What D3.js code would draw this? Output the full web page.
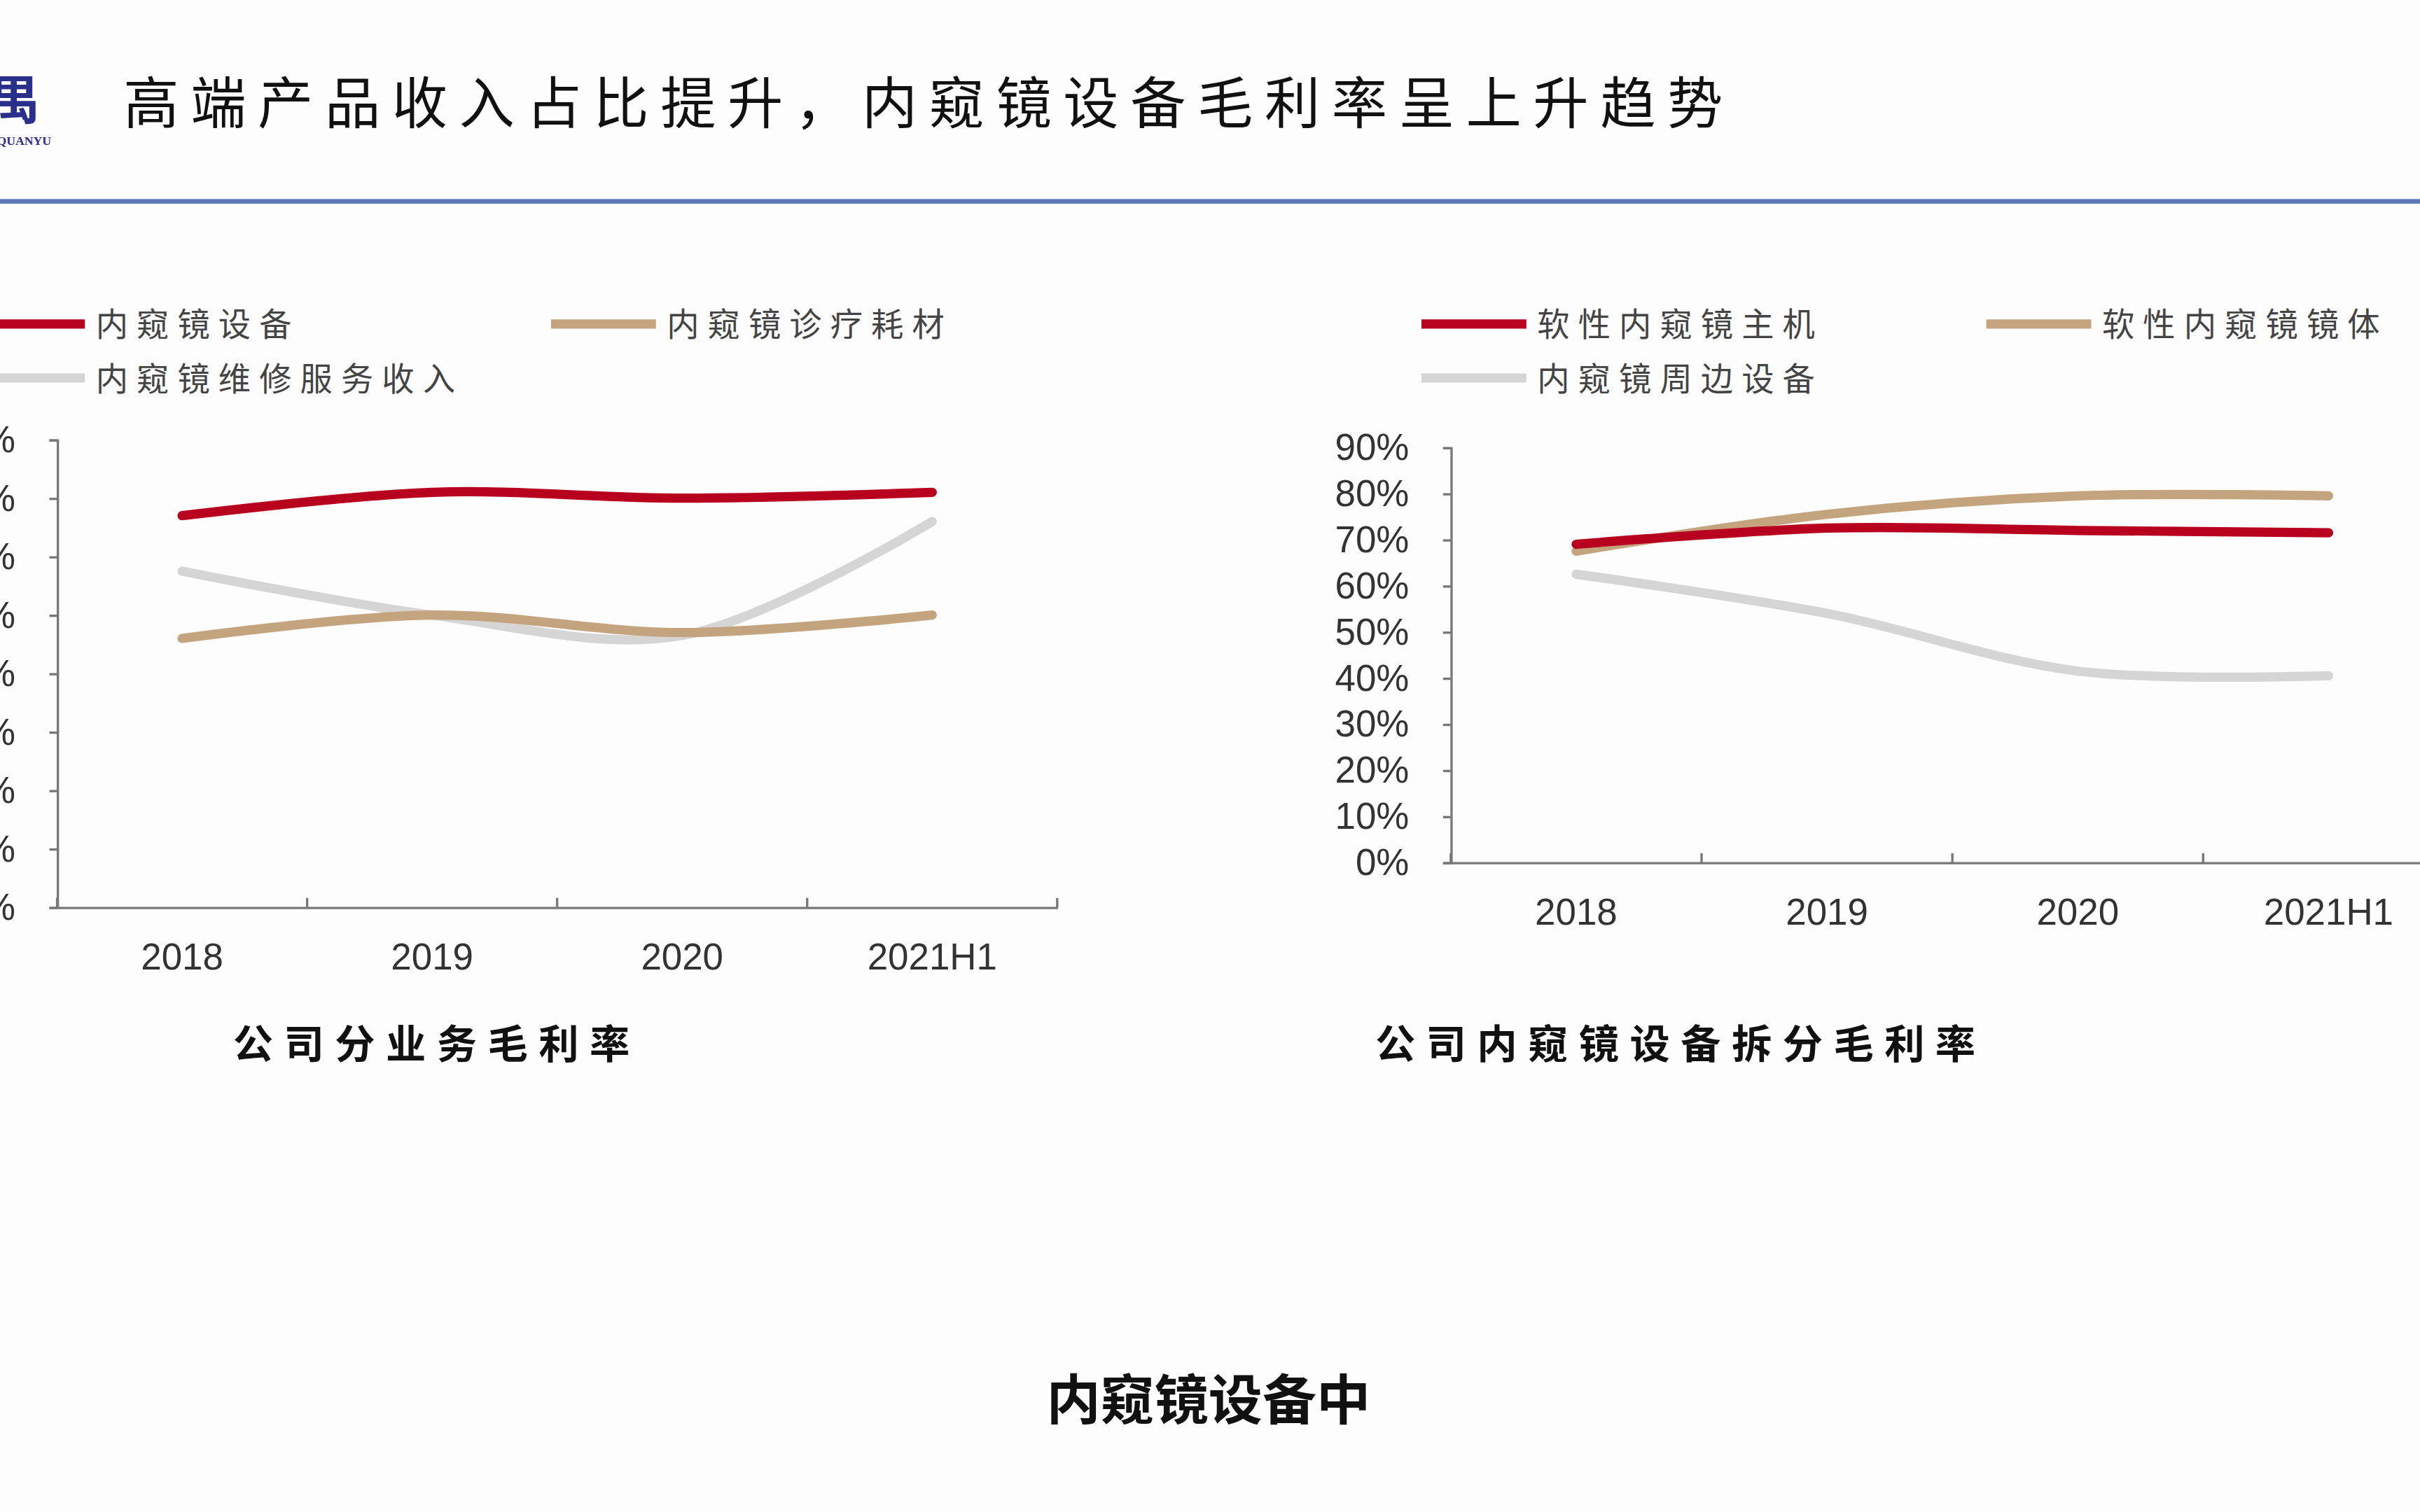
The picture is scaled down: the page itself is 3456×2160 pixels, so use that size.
<!DOCTYPE html>
<html><head><meta charset="utf-8">
<script src="https://cdn.jsdelivr.net/npm/d3@7"></script>
<style>
html,body{margin:0;padding:0;background:#fdfdfd;overflow:hidden}
svg{display:block}
.cjk{font-family:"Noto Sans CJK SC",sans-serif}
</style></head>
<body>
<script>
const years = ['2018', '2019', '2020', '2021H1'];

// 公司分业务毛利率
const leftNames = ['内窥镜设备', '内窥镜诊疗耗材', '内窥镜维修服务收入'];
const leftEquip = [0.67, 0.71, 0.70, 0.71];
const leftConsum = [0.46, 0.50, 0.47, 0.50];
const leftRepair = [0.575, 0.50, 0.465, 0.66];
const leftTicks = [0, 0.1, 0.2, 0.3, 0.4, 0.5, 0.6, 0.7, 0.8];

// 公司内窥镜设备拆分毛利率
const rightNames = ['软性内窥镜主机', '软性内窥镜镜体', '内窥镜周边设备'];
const rightHost = [0.69, 0.725, 0.72, 0.715];
const rightScope = [0.675, 0.755, 0.795, 0.795];
const rightPeri = [0.625, 0.54, 0.415, 0.405];
const rightTicks = [0, 0.1, 0.2, 0.3, 0.4, 0.5, 0.6, 0.7, 0.8, 0.9];

const colors = ['#b8001f', '#c4a47e', '#d5d5d5'];

const svg = d3.select('body').append('svg')
  .attr('width', 3456).attr('height', 2160)
  .attr('viewBox', '0 0 1568 980');

// header
svg.append('text').attr('x', -8).attr('y', 77).attr('fill', '#2b2f8c')
  .attr('font-size', 34).attr('font-weight', 'bold').attr('class', 'cjk').text('禺');
svg.append('text').attr('x', -2).attr('y', 94).attr('fill', '#2b2f8c')
  .attr('font-size', 8).attr('font-family', 'Liberation Serif').attr('font-weight', 'bold').text('QUANYU');
svg.append('text').attr('x', 80).attr('y', 80).attr('class', 'cjk')
  .attr('font-size', 36).attr('fill', '#111').attr('letter-spacing', 7.5)
  .text('高端产品收入占比提升，内窥镜设备毛利率呈上升趋势');
svg.append('rect').attr('x', 0).attr('y', 129).attr('width', 1568).attr('height', 3).attr('fill', '#5a78b8');

function chart(cfg) {
  const x = d3.scaleBand().domain(years).range([cfg.x0, cfg.x1]);
  const y = d3.scaleLinear().domain([0, cfg.max]).range([cfg.y0, cfg.y1]);
  const g = svg.append('g');

  const ya = g.append('g').attr('transform', `translate(${cfg.x0},0)`)
    .call(d3.axisLeft(y).tickValues(cfg.ticks).tickFormat(d3.format('.0%')).tickSize(5).tickPadding(22));
  const xa = g.append('g').attr('transform', `translate(0,${cfg.y0})`)
    .call(d3.axisBottom(x).tickSize(0).tickPadding(20));
  // tick marks at band boundaries
  g.selectAll('.bt').data(d3.range(years.length + 1)).join('line')
    .attr('x1', (i) => cfg.x0 + i * x.step()).attr('x2', (i) => cfg.x0 + i * x.step())
    .attr('y1', cfg.y0).attr('y2', cfg.y0 - 6).attr('stroke', '#777').attr('stroke-width', 1.5);
  [ya, xa].forEach((a) => {
    a.select('.domain').attr('stroke', '#777').attr('stroke-width', 1.5);
    a.selectAll('.tick line').attr('stroke', '#777').attr('stroke-width', 1.5);
    a.selectAll('text').attr('font-family', 'Liberation Sans, Arial').attr('font-size', 24).attr('fill', '#333');
  });
  xa.selectAll('.tick text').attr('dy', '0.85em');

  const line = d3.line().x((d, i) => x(years[i]) + x.bandwidth() / 2).y((d) => y(d))
    .curve(d3.curveCatmullRom.alpha(0.5));
  cfg.series.slice().reverse().forEach((s, k) => {
    const i = cfg.series.length - 1 - k;
    g.append('path').attr('d', line(s)).attr('fill', 'none')
      .attr('stroke', colors[i]).attr('stroke-width', 6).attr('stroke-linecap', 'round');
  });

  // legend
  cfg.legend.forEach((p, i) => {
    g.append('line').attr('x1', p[0]).attr('x2', p[0] + 68).attr('y1', p[1]).attr('y2', p[1])
      .attr('stroke', colors[i]).attr('stroke-width', 6);
    g.append('text').attr('x', p[0] + 75).attr('y', p[1] + 8).attr('class', 'cjk')
      .attr('font-size', 21).attr('fill', '#444').attr('letter-spacing', 5.5).text(cfg.names[i]);
  });
  g.append('text').attr('x', cfg.capX).attr('y', 686).attr('text-anchor', 'middle').attr('class', 'cjk')
    .attr('font-size', 26).attr('font-weight', 'bold').attr('fill', '#111').attr('letter-spacing', 7).text(cfg.caption);
}

chart({ x0: 37, x1: 685, y0: 588, y1: 285, max: 0.8, ticks: leftTicks,
  series: [leftEquip, leftConsum, leftRepair], names: leftNames,
  legend: [[-13, 210], [357, 210], [-13, 245]], capX: 283, caption: '公司分业务毛利率' });
chart({ x0: 940, x1: 1590, y0: 559, y1: 290, max: 0.9, ticks: rightTicks,
  series: [rightHost, rightScope, rightPeri], names: rightNames,
  legend: [[921, 210], [1287, 210], [921, 245]], capX: 1089, caption: '公司内窥镜设备拆分毛利率' });

svg.append('text').attr('x', 783).attr('y', 920).attr('text-anchor', 'middle').attr('class', 'cjk')
  .attr('font-size', 35).attr('font-weight', 'bold').attr('fill', '#111').text('内窥镜设备中');
</script>
</body></html>
